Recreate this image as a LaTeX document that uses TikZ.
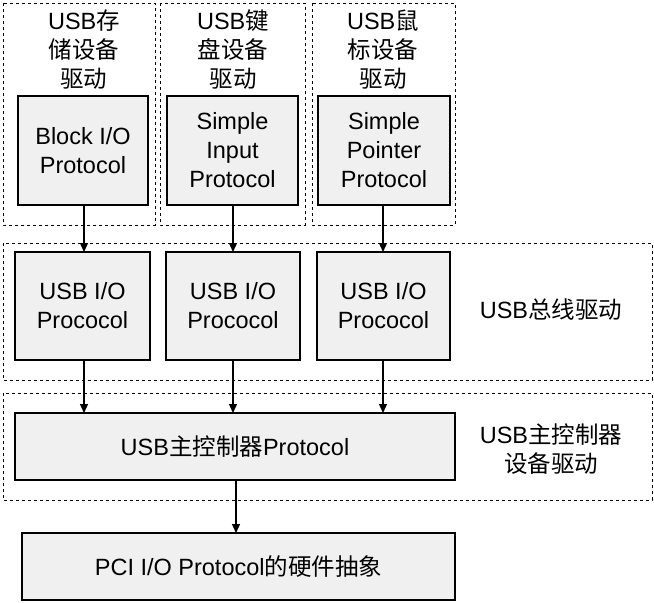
\documentclass[tikz,border=0pt]{standalone}
\usepackage{fontspec}
\setmainfont{Liberation Sans}
\newfontfamily\cjk{Noto Sans CJK SC}
\usetikzlibrary{arrows.meta}
\begin{document}
\begin{tikzpicture}[x=1pt,y=-1pt,
  dbox/.style={draw,dashed,line width=0.9pt},
  ibox/.style={draw,fill=black!6,line width=1.1pt},
  txt/.style={align=center,font=\fontsize{23.5}{29}\selectfont},
  arr/.style={-{Triangle[length=9pt,width=8pt]},line width=1.3pt}]
\useasboundingbox (0,0) rectangle (654,603);
\draw[dbox] (3,3) rectangle (155,225);
\draw[dbox] (160,3) rectangle (305,225);
\draw[dbox] (312,3) rectangle (455,225);
\draw[dbox] (3,243) rectangle (652,380);
\draw[dbox] (3,393) rectangle (652,500);
\node[txt] (t1) at (84,50) {USB{\cjk 存}\\{\cjk 储设备}\\{\cjk 驱动}};
\node[txt] (t2) at (233,50) {USB{\cjk 键}\\{\cjk 盘设备}\\{\cjk 驱动}};
\node[txt] (t3) at (383,50) {USB{\cjk 鼠}\\{\cjk 标设备}\\{\cjk 驱动}};
\draw[ibox] (18,96) rectangle (148,205) node[midway,txt] (a1) {Block I/O\\Protocol};
\draw[ibox] (167,96) rectangle (298,205) node[midway,txt] (a2) {Simple\\Input\\Protocol};
\draw[ibox] (318,96) rectangle (450,205) node[midway,txt] (a3) {Simple\\Pointer\\Protocol};
\draw[ibox] (15,252) rectangle (150,360) node[midway,txt] (b1) {USB I/O\\Prococol};
\draw[ibox] (166,252) rectangle (300,360) node[midway,txt] (b2) {USB I/O\\Prococol};
\draw[ibox] (317,252) rectangle (450,360) node[midway,txt] (b3) {USB I/O\\Prococol};
\node[txt] (l1) at (551,310) {USB{\cjk 总线驱动}};
\draw[ibox] (15,413) rectangle (455,480) node[midway,txt] (c) {USB{\cjk 主控制器}Protocol};
\node[txt] (l2) at (551,449) {USB{\cjk 主控制器}\\{\cjk 设备驱动}};
\draw[ibox] (22,533) rectangle (455,600) node[midway,txt] (d) {PCI I/O Protocol{\cjk 的硬件抽象}};
\coordinate (p1) at (84,205); \coordinate (q1) at (84,252);
\coordinate (p2) at (233,205); \coordinate (q2) at (233,252);
\coordinate (p3) at (383,205); \coordinate (q3) at (383,252);
\coordinate (r1) at (84,360); \coordinate (s1) at (84,413);
\coordinate (r2) at (233,360); \coordinate (s2) at (233,413);
\coordinate (r3) at (383,360); \coordinate (s3) at (383,413);
\coordinate (u) at (236,480); \coordinate (v) at (236,533);
\foreach \a/\b in {p1/q1,p2/q2,p3/q3,r1/s1,r2/s2,r3/s3,u/v} \draw[arr] (\a) -- (\b);
\end{tikzpicture}
\end{document}
